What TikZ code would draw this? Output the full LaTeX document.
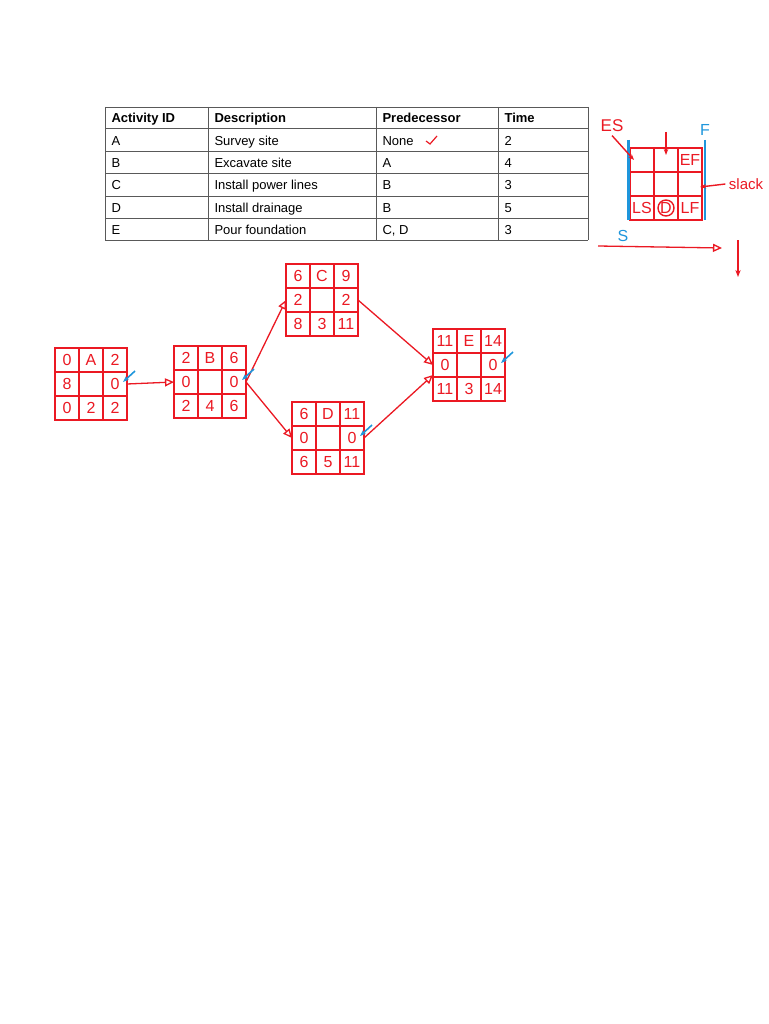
\documentclass[tikz,border=0pt]{standalone}
\usepackage{fontspec}
\setmainfont{Liberation Sans}
\usetikzlibrary{positioning,arrows.meta,calc}
\definecolor{InkRed}{RGB}{235,25,35}
\definecolor{InkBlue}{RGB}{30,150,220}
\tikzset{
	cell/.style={draw=InkRed,line width=1.6pt,minimum size=24pt,inner sep=0pt,text=InkRed,font=\fontsize{16}{18}\selectfont},
	link/.style={draw=InkRed,line width=1.3pt,-{Triangle[open,length=9pt,width=8pt]}},
	tick/.style={draw=InkBlue,line width=1.6pt,-{Stealth[length=6pt]}},
	tab/.style={font=\fontsize{13}{15}\selectfont,anchor=west,text height=9.5pt,text depth=2.5pt}
}
% one activity box: name, centre x, centre y, nine entries
\newcommand{\actbox}[4]{%
	\foreach \rr/\cc/\tt in {#4}{
		\node[cell] (#1-\rr\cc) at ({#2+(\cc-2)*24},{#3+(\rr-2)*24}) {\tt};
	}
	\coordinate (#1-w) at ({#2-36},#3);
	\coordinate (#1-e) at ({#2+36},#3);
}
\begin{document}
\begin{tikzpicture}[x=1pt,y=-1pt]
	\useasboundingbox[fill=white] (0,0) rectangle (768,1024);
	% table
	\foreach \y in {107,128,151,173,196,218,240}
	\draw[gray!70!black,line width=0.9pt] (105,\y) -- (588,\y);
	\foreach \x in {105,208,376,498,588}
	\draw[gray!70!black,line width=0.9pt] (\x,107) -- (\x,240);
	\foreach \a/\b/\c/\d [count=\i] in {A/Survey site/None/2,B/Excavate site/A/4,C/Install power lines/B/3,D/Install drainage/B/5,E/Pour foundation/{C, D}/3}{
		\node[tab] at (108,119.5+\i*22.3) {\a};
		\node[tab] at (211,119.5+\i*22.3) {\b};
		\node[tab] at (379,119.5+\i*22.3) {\c};
		\node[tab] at (501,119.5+\i*22.3) {\d};
	}
	\foreach \x/\t in {108/Activity ID,211/Description,379/Predecessor,501/Time}
	\node[tab,font=\fontsize{13}{15}\selectfont\bfseries] at (\x,119) {\t};
	\draw[InkRed,line width=1.2pt] (426,141) -- (430,144) -- (437,136);
	% network
	\actbox{A}{91}{384}{1/1/0,1/2/A,1/3/2,2/1/8,2/2/,2/3/0,3/1/0,3/2/2,3/3/2}
	\actbox{B}{210}{382}{1/1/2,1/2/B,1/3/6,2/1/0,2/2/,2/3/0,3/1/2,3/2/4,3/3/6}
	\actbox{C}{322}{300}{1/1/6,1/2/C,1/3/9,2/1/2,2/2/,2/3/2,3/1/8,3/2/3,3/3/11}
	\actbox{D}{328}{438}{1/1/6,1/2/D,1/3/11,2/1/0,2/2/,2/3/0,3/1/6,3/2/5,3/3/11}
	\actbox{E}{469}{365}{1/1/11,1/2/E,1/3/14,2/1/0,2/2/,2/3/0,3/1/11,3/2/3,3/3/14}
	\draw[link] (A-e) -- (B-w);
	\draw[link] (B-e) -- (C-w);
	\draw[link] (B-e) -- (D-w);
	\draw[link] (C-e) -- (E-w);
	\draw[link] (D-e) -- ($(E-w)+(0,10)$);
	\foreach \n in {A,B,D,E}
	\draw[tick] ($(\n-23)+(20,-13)$) -- ($(\n-23)+(8,-2)$);
	% legend
	\actbox{L}{666}{184}{1/1/,1/2/,1/3/EF,2/1/,2/2/,2/3/,3/1/LS,3/2/D,3/3/LF}
	\draw[InkRed,line width=1.4pt] (L-32) circle (8pt);
	\draw[InkBlue,line width=3pt] (628,140) -- (628,220);
	\draw[InkBlue,line width=1.8pt] (705,140) -- (705,220);
	\node[text=InkRed,font=\fontsize{17}{19}\selectfont] (es) at (612,126) {ES};
	\draw[InkRed,line width=1.4pt,-{Stealth[length=6pt]}] (es.south) -- (634,160);
	\draw[InkRed,line width=1.4pt,-{Stealth[length=6pt]}] (666,132) -- (666,155);
	\node[text=InkBlue,font=\fontsize{16}{18}\selectfont] (f) at (705,130) {F};
	\node[text=InkRed,font=\fontsize{15}{17}\selectfont] (slack) at (746,184) {slack};
	\draw[InkRed,line width=1.4pt,-{Stealth[length=6pt]}] (slack.west) -- (700,187);
	\node[text=InkBlue,font=\fontsize{16}{18}\selectfont] (s) at (623,236) {S};
	\coordinate (s1) at (598,246);
	\coordinate (s2) at (722,248);
	\draw[link] (s1) -- (s2);
	\coordinate (d1) at (738,240);
	\coordinate (d2) at (738,277);
	\draw[InkRed,line width=1.4pt,-{Stealth[length=7pt]}] (d1) -- (d2);
\end{tikzpicture}
\end{document}
